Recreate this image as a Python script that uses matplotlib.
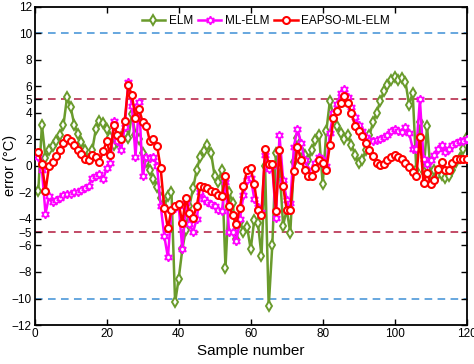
import numpy as np
import matplotlib
matplotlib.use("Agg")
import matplotlib.pyplot as plt

plt.rcParams['font.family'] = ['Liberation Sans', 'DejaVu Sans']

# values, samples 1..120
elm = [-1.9, 3.1, 0.6, 1.2, 1.5, 1.9, 2.3, 3.1, 5.2, 4.4,
       3.1, 2.4, 1.8, 1.2, 0.5, 1.2, 2.8, 3.4, 3.2, 2.8,
       2.2, 1.6, 1.8, 2.2, 2.5, 2.1, 3.9, 2.3, 2.0, 1.0,
       0.3, -0.3, -1.0, -1.6, -2.4, -3.0, -2.3, -2.0, -10.3, -8.5,
       -6.3, -4.8, -3.0, -1.7, -0.3, 0.7, 1.1, 1.6, 0.95, -0.8,
       -1.2, -0.3, -7.7, -2.0, -2.8, -5.5, -4.2, -5.0, -4.6, -6.3,
       -4.05, -4.3, -6.8, -0.05, -10.6, -6.0, 0.95, -0.05, -4.5, -3.3,
       -5.05, 0.3, 2.1, 1.2, 0.8, 0.45, 1.2, 1.95, 2.3, -1.4,
       2.6, 4.9, 3.7, 3.0, 2.5, 2.0, 2.3, 1.6, 0.8, 0.2,
       0.45, 1.2, 2.3, 3.3, 4.0, 4.9, 5.6, 6.1, 6.5, 6.7,
       6.5, 6.6, 6.3, 4.6, 5.5, -0.3, 3.3, -0.5, 3.0, -0.6,
       -0.3, -0.6, -0.7, -0.9, -0.8, -0.3, 0.3, 0.6, 1.3, 2.2]

ml_elm = [0.7, -0.3, -3.6, -2.3, -2.7, -2.6, -2.4, -2.2, -2.1, -2.1,
          -2.0, -1.95, -1.85, -1.7, -1.55, -0.9, -0.8, -0.6, -1.0, -0.2,
          0.2, 3.4, 1.9, 1.2, 2.9, 6.3, 4.5, 0.7, 4.8, -0.8,
          0.7, 0.6, 0.7, -0.05, -3.0, -5.3, -6.9, -3.3, -3.2, -3.0,
          -6.3, -2.8, -4.4, -5.0, -4.0, -2.0, -2.5, -2.75, -2.9, -3.0,
          -3.3, -3.4, -1.2, -5.0, -5.0, -5.7, -4.0, -2.2, -1.05, -0.9,
          -2.5, -3.1, -3.5, 0.8, -0.25, 0.0, -3.9, 2.3, -1.05, -2.55,
          -2.8, 1.45, 2.8, 1.7, 0.45, -0.3, -0.3, 0.2, 0.7, 0.45,
          0.0, 2.5, 4.0, 4.65, 5.45, 5.8, 5.2, 4.45, 3.7, 3.1,
          2.6, 2.2, 1.95, 1.85, 1.95, 2.05, 2.2, 2.3, 2.6, 2.8,
          2.65, 2.55, 2.9, 2.5, 1.3, 1.25, 5.0, 0.55, 0.1, 0.45,
          0.8, 1.3, 1.6, 1.05, 1.3, 1.55, 1.7, 1.85, 1.9, 2.0]

eapso = [1.07, 0.15, -1.9, 0.0, 0.3, 0.75, 1.2, 1.7, 2.1, 1.9,
         1.6, 1.2, 0.9, 0.5, 0.4, 0.8, 0.7, 0.3, 1.1, 1.85,
         0.85, 3.1, 2.3, 2.0, 3.4, 6.1, 5.3, 3.6, 4.25, 3.3,
         3.0, 1.85, 2.0, 1.5, -0.2, -3.2, -4.7, -3.3, -3.05, -2.85,
         -4.3, -2.45, -3.55, -3.9, -3.05, -1.55, -1.6, -1.7, -1.9, -2.0,
         -2.2, -2.25, -0.8, -3.05, -3.7, -4.4, -3.15, -1.55, -0.3, -0.2,
         -1.4, -3.3, -3.7, 1.25, 0.15, 0.15, -3.4, 1.2, -1.55, -3.3,
         -3.3, -0.4, 1.4, 0.45, -0.3, -0.8, -0.8, -0.2, 0.45, 0.2,
         -0.3, 1.57, 3.57, 4.1, 4.75, 5.25, 4.7, 3.95, 3.0, 2.65,
         2.25, 1.7, 1.2, 0.75, 0.2, 0.07, 0.15, 0.45, 0.7, 0.8,
         0.65, 0.5, 0.2, -0.1, -0.5, -0.8, 2.15, -1.3, -0.55, -1.4,
         -1.05, -0.25, 0.3, -0.3, -0.3, 0.2, 0.5, 0.5, 0.5, 0.5]

samples = np.arange(1, len(elm) + 1)
y_ticks = [-12, -10, -8, -6, -5, -4, -2, 0, 2, 4, 5, 6, 8, 10, 12]
x_ticks = [0, 20, 40, 60, 80, 100, 120]

fig = plt.figure(figsize=(4.74, 3.64), dpi=100)
ax = fig.add_axes([0.0732, 0.107, 0.9114, 0.875])

# limit lines
for lv, col in [(10, '#3d8fd6'), (-10, '#3d8fd6'), (5, '#b2193c'), (-5, '#b2193c')]:
    ax.axhline(lv, color=col, lw=1.1, ls=(0, (5, 3.5)), zorder=1)

ax.plot(samples, elm, color='#6a9b2c', lw=1.8, marker='d', ms=5.5,
        mfc='white', mec='#6a9b2c', mew=1.4, label='ELM', zorder=2)
ax.plot(samples, ml_elm, color='#ff00ff', lw=1.8, marker=(6, 1, 0), ms=6,
        mfc='white', mec='#ff00ff', mew=1.2, label='ML-ELM', zorder=3)
ax.plot(samples, eapso, color='#ff0000', lw=1.8, marker='o', ms=5,
        mfc='white', mec='#ff0000', mew=1.5, label='EAPSO-ML-ELM', zorder=4)

ax.set_xlim(0, 120)
ax.set_ylim(-12, 12)
ax.set_xticks(x_ticks)
ax.set_yticks(y_ticks)
ax.tick_params(direction='in', top=True, right=True, length=4, width=1,
               labelsize=8.5, pad=2)
for sp in ax.spines.values():
    sp.set_linewidth(1.3)

ax.set_xlabel('Sample number', fontsize=11, labelpad=3)
ax.set_ylabel('error (°C)', fontsize=10.5)
ax.yaxis.set_label_coords(-0.04, 0.5)

ax.legend(loc='upper center', bbox_to_anchor=(0.535, 1.0), ncol=3,
          frameon=False, fontsize=8.5, handlelength=2.0, handletextpad=0.3,
          columnspacing=0.4, borderaxespad=0.35)

fig.savefig('out.png', dpi=100)
